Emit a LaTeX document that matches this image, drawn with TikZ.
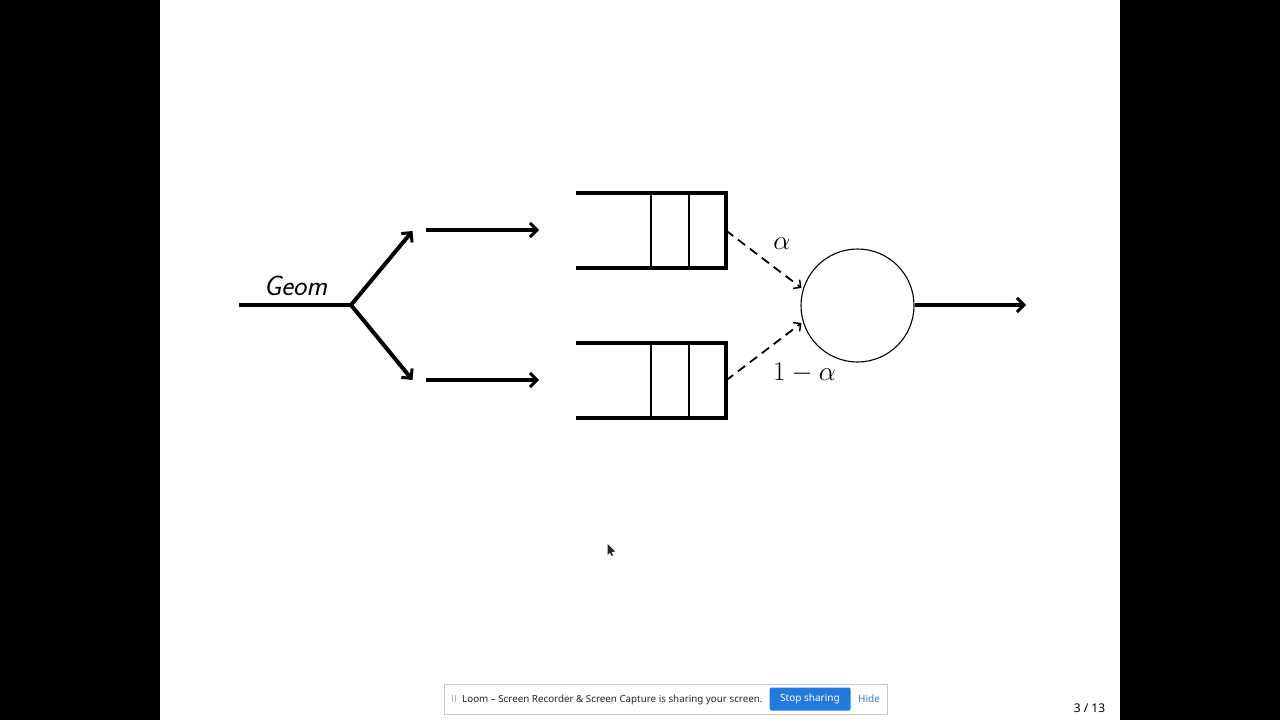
\documentclass[tikz,border=0pt]{standalone}
\usepackage{fontspec}
\newfontfamily\uifont{Noto Sans}
\usetikzlibrary{arrows.meta}
\definecolor{loomblue}{HTML}{2379DC}
\definecolor{hidelink}{HTML}{3F78B5}
\tikzset{
  x=1pt,y=-1pt,
  thick line/.style={line width=4pt,line cap=butt},
  flow/.style={thick line,-{Straight Barb[length=7pt,width=14pt,line width=3pt]}},
  dashflow/.style={line width=1.8pt,dash pattern=on 9pt off 6pt,-{Straight Barb[length=5.5pt,width=11pt,line width=1.5pt]}},
  thin line/.style={line width=1.4pt},
  label text/.style={inner sep=0pt,scale=1.09,font=\fontsize{30}{34}\selectfont},
}
\begin{document}
\begin{tikzpicture}
\useasboundingbox (0,0) rectangle (1280,720);
\fill[white] (0,0) rectangle (1280,720);
\fill[black] (0,0) rectangle (160,720);
\fill[black] (1120,0) rectangle (1280,720);

% routing
\coordinate (src) at (239,305);
\coordinate (split) at (351,305);
\coordinate (upTip) at (412.5,231);
\coordinate (downTip) at (412.5,380);
\coordinate (a1s) at (425.5,230);
\coordinate (a1e) at (539,230);
\coordinate (a2s) at (425.5,380);
\coordinate (a2e) at (539,380);
\draw[thick line] (src) -- (split);
\draw[flow] (split) -- (upTip);
\draw[flow] (split) -- (downTip);
\draw[flow] (a1s) -- (a1e);
\draw[flow] (a2s) -- (a2e);
\node[inner sep=0pt,font=\fontsize{28}{32}\selectfont\sffamily\itshape] (geom) at (295.5,286) {Geom};

% queue 1
\coordinate (q1tl) at (576,192.5);
\coordinate (q1tr) at (726,192.5);
\coordinate (q1br) at (726,268);
\coordinate (q1bl) at (576,268);
\coordinate (q1m) at (726,230.5);
\draw[thick line,line join=miter] (q1tl) -- (q1tr) -- (q1br) -- (q1bl);
\draw[thin line] (651,192.5) -- (651,268);
\draw[thin line] (689,192.5) -- (689,268);

% queue 2
\coordinate (q2tl) at (576,343);
\coordinate (q2tr) at (726,343);
\coordinate (q2br) at (726,418);
\coordinate (q2bl) at (576,418);
\coordinate (q2m) at (726,380.5);
\draw[thick line,line join=miter] (q2tl) -- (q2tr) -- (q2br) -- (q2bl);
\draw[thin line] (651,343) -- (651,418);
\draw[thin line] (689,343) -- (689,418);

% server
\node[circle,draw,line width=1.1pt,minimum size=113pt,inner sep=0pt,fill=white] (server) at (857.5,305.5) {};
\coordinate (out) at (1026,305);
\draw[flow] (server.east |- out) -- (out);

\coordinate (s1) at (801.5,288);
\coordinate (s2) at (801.5,323);
\draw[dashflow] (q1m) -- (s1);
\draw[dashflow] (q2m) -- (s2);
\node[label text,anchor=base] (alpha) at (782,249) {$\alpha$};
\node[label text,anchor=base] (oneminus) at (804.5,380) {$1-\alpha$};

% cursor
\fill[black!85] (607.5,544) -- (607.5,555) -- (610,552.5) -- (611.5,556) -- (613,555.3) -- (611.6,552) -- (615,551.5) -- cycle;

% sharing bar
\draw[black!22,fill=white,line width=0.8pt] (444.5,684) rectangle (887.5,714);
\fill[black!30] (452,695) rectangle (453,702);
\fill[black!30] (454.5,695) rectangle (455.5,702);
\node[inner sep=0pt,anchor=west,text=black!85,font=\uifont\fontsize{9.8}{12}\selectfont] (share) at (462,699.5) {Loom – Screen Recorder \& Screen Capture is sharing your screen.};
\node[fill=loomblue,rounded corners=1.5pt,minimum width=81pt,minimum height=23pt,inner sep=0pt,text=white,font=\uifont\fontsize{10}{12}\selectfont] (stop) at (810,699) {Stop sharing};
\node[inner sep=0pt,text=hidelink,font=\uifont\fontsize{10}{12}\selectfont] (hide) at (869,699) {Hide};

% page number
\node[inner sep=0pt,text=black,font=\uifont\fontsize{12}{14}\selectfont] (page) at (1089.5,708) {3 / 13};
\end{tikzpicture}
\end{document}
